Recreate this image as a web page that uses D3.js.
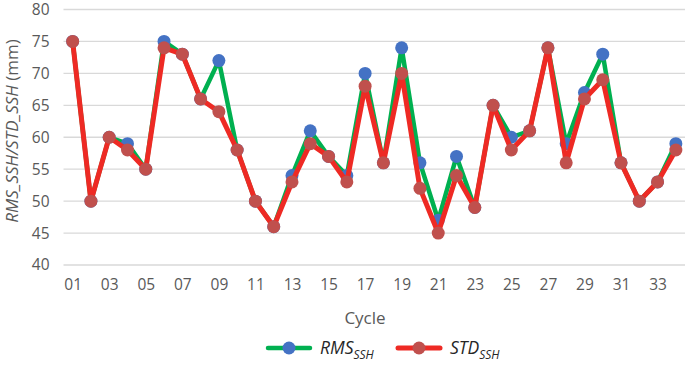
<html>
<head>
    <script src="https://d3js.org/d3.v7.min.js"></script>
    <style>
        body { margin: 0; background: #fff; }
        * { font-family: "Open Sans", sans-serif; }
    </style>
</head>
<body>
    <svg id="graph" width="685" height="365"></svg>
    <script>
        // data
        const cycles = d3.range(1, 35).map(d => String(d).padStart(2, "0"));
        const rmsSSH = [75, 50, 60, 59, 55, 75, 73, 66, 72, 58, 50, 46, 54, 61, 57, 54, 70,
                        56, 74, 56, 47, 57, 49, 65, 60, 61, 74, 59, 67, 73, 56, 50, 53, 59];
        const stdSSH = [75, 50, 60, 58, 55, 74, 73, 66, 64, 58, 50, 46, 53, 59, 57, 53, 68,
                        56, 70, 52, 45, 54, 49, 65, 58, 61, 74, 56, 66, 69, 56, 50, 53, 58];
        const yTicks = [40, 45, 50, 55, 60, 65, 70, 75, 80];

        let svg = d3.select("svg#graph");
        const margin = { top: 9.5, right: 0, bottom: 100, left: 63.5 };
        const width = +svg.attr("width");
        const chartWidth = width - margin.left - margin.right;
        const chartHeight = 265 - margin.top;

        const xScale = d3.scalePoint().domain(cycles).range([0, chartWidth]).padding(0.5);
        const yScale = d3.scaleLinear().domain([40, 80]).range([chartHeight, 0]);

        let chartArea = svg.append("g")
            .attr("transform", `translate(${margin.left},${margin.top})`);

        // gridlines
        chartArea.selectAll("line.grid").data(yTicks)
            .join("line")
            .attr("class", "grid")
            .attr("x1", 0).attr("x2", chartWidth)
            .attr("y1", d => yScale(d)).attr("y2", d => yScale(d))
            .attr("stroke", "#d9d9d9").attr("stroke-width", 1.3);

        // y axis labels
        let leftAxis = d3.axisLeft(yScale).tickValues(yTicks).tickSize(0).tickPadding(14);
        let yAxis = chartArea.append("g").call(leftAxis);
        yAxis.select(".domain").remove();
        yAxis.selectAll("text").attr("fill", "#595959").style("font-size", "15.5px");

        // x axis labels, every other cycle
        let bottomAxis = d3.axisBottom(xScale)
            .tickValues(cycles.filter((d, i) => i % 2 === 0))
            .tickSize(0).tickPadding(14);
        let xAxis = chartArea.append("g").attr("transform", `translate(0,${chartHeight})`).call(bottomAxis);
        xAxis.select(".domain").remove();
        xAxis.selectAll("text").attr("fill", "#595959").style("font-size", "15.5px");

        const series = [
            { name: "RMS", values: rmsSSH, line: "#00b050", marker: "#4472c4", w: 4.5 },
            { name: "STD", values: stdSSH, line: "#ee2a24", marker: "#c0504d", w: 5 }
        ];

        const line = d3.line().x((d, i) => xScale(cycles[i])).y(d => yScale(d));

        series.forEach(s => {
            chartArea.append("path")
                .datum(s.values)
                .attr("d", line)
                .attr("fill", "none")
                .attr("stroke", s.line)
                .attr("stroke-width", s.w)
                .attr("stroke-linejoin", "round");
            chartArea.selectAll("circle." + s.name).data(s.values)
                .join("circle")
                .attr("class", s.name)
                .attr("cx", (d, i) => xScale(cycles[i]))
                .attr("cy", d => yScale(d))
                .attr("r", 6.5)
                .attr("fill", s.marker);
        });

        // axis titles
        let yTitle = svg.append("text")
            .attr("transform", `translate(18,131) rotate(-90)`)
            .attr("text-anchor", "middle")
            .attr("fill", "#595959")
            .style("font-size", "17px");
        yTitle.append("tspan").style("font-style", "italic").text("RMS_SSH/STD_SSH");
        yTitle.append("tspan").text(" (mm)");

        svg.append("text")
            .attr("x", 365).attr("y", 324)
            .attr("text-anchor", "middle")
            .attr("fill", "#595959")
            .style("font-size", "17px")
            .text("Cycle");

        // legend
        const legendX = [268, 398];
        series.forEach((s, i) => {
            let g = svg.append("g").attr("transform", `translate(${legendX[i]},348)`);
            g.append("line").attr("x1", 0).attr("x2", 42)
                .attr("stroke", s.line).attr("stroke-width", s.w).attr("stroke-linecap", "round");
            g.append("circle").attr("cx", 21).attr("r", 6.5).attr("fill", s.marker);
            let t = g.append("text").attr("x", 52).attr("y", 6)
                .attr("fill", "#262626").style("font-size", "17.5px").style("font-style", "italic");
            t.append("tspan").text(s.name);
            t.append("tspan").attr("dy", 5).style("font-size", "12px").text("SSH");
        });
    </script>
</body>
</html>
